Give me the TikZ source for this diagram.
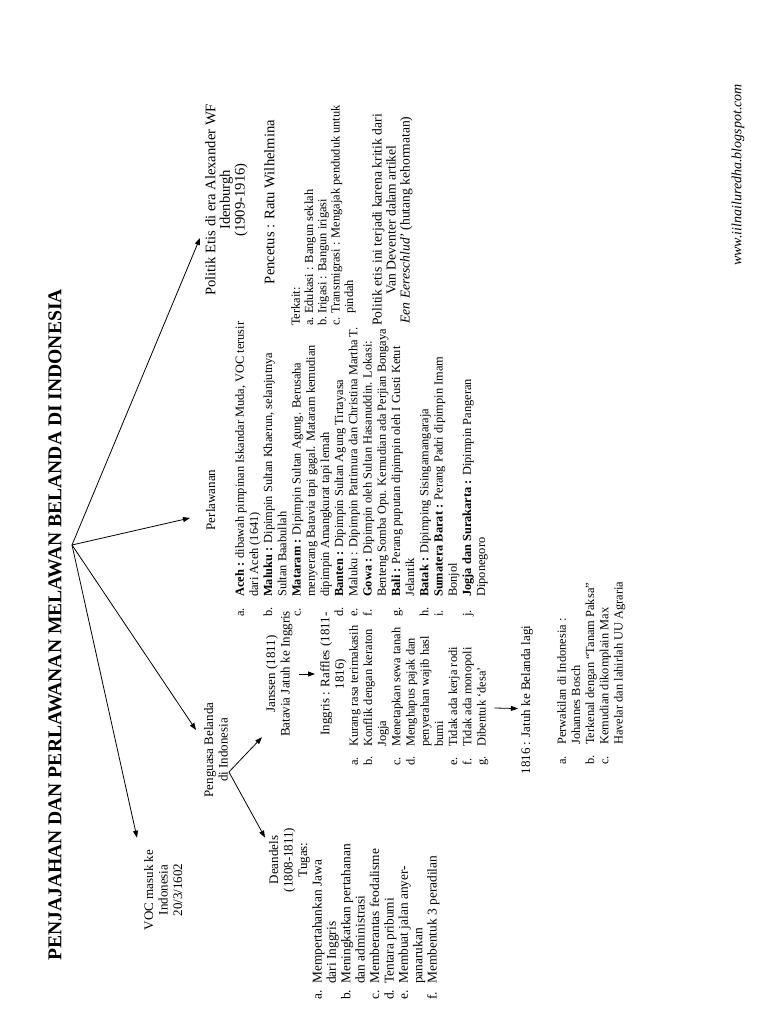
\documentclass[tikz,border=0pt]{standalone}
\usepackage{fontspec}
\setmainfont{Liberation Serif}
\usetikzlibrary{arrows.meta,calc}

\newcommand{\lbl}[2][20pt]{\makebox[#1][l]{#2}}
\newcommand{\cnt}[1][20pt]{\hspace*{#1}}

\begin{document}
\begin{tikzpicture}[
  x=1pt, y=1pt,
  every node/.style={inner sep=0pt, font=\fontsize{13}{14.4}\selectfont},
  headbox/.style={align=center, anchor=north},
  listbox/.style={align=left, anchor=north west},
  arr/.style={-{Triangle[length=7pt,width=5pt]}, line width=0.8pt}]
\useasboundingbox (0,0) rectangle (768,1024);
\begin{scope}[rotate=90, transform shape]
% title and root of the tree
\node[anchor=center, font=\fontsize{19.6}{22}\selectfont\bfseries] (title) at (399,-55)
  {PENJAJAHAN DAN PERLAWANAN MELAWAN BELANDA DI INDONESIA};
\coordinate (root) at (479,-72);

% first level
\node[headbox] (voc) at (134,-144) {VOC masuk ke\\Indonesia\\20/3/1602};
\node[headbox] (penguasa) at (274,-204) {Penguasa Belanda\\di Indonesia};
\node[headbox] (perlawanan) at (524,-206) {Perlawanan};
\node[headbox, font=\fontsize{14.6}{14.6}\selectfont] (politik) at (824,-205)
  {Politik Etis di era Alexander WF\\Idenburgh\\(1909-1916)};

% penguasa belanda
\node[headbox] (deandels) at (164,-269) {Deandels\\(1808-1811)\\Tugas:};
\node[listbox, font=\fontsize{13.4}{14.4}\selectfont] (tugas) at (24,-312) {%
  \lbl[16pt]{a.}Mempertahankan Jawa\\
  \cnt[16pt]dari Inggris\\
  \lbl[16pt]{b.}Meningkatkan pertahanan\\
  \cnt[16pt]dan administrasi\\
  \lbl[16pt]{c.}Memberantas feodalisme\\
  \lbl[16pt]{d.}Tentara pribumi\\
  \lbl[16pt]{e.}Membuat jalan anyer-\\
  \cnt[16pt]panarukan\\
  \lbl[16pt]{f.}Membentuk 3 peradilan};
\node[headbox] (janssen) at (350,-266) {Janssen (1811)\\Batavia Jatuh ke Inggris};
\node[headbox] (raffles) at (350,-320) {Inggris : Raffles (1811-\\1816)};
\node[listbox, font=\fontsize{12.4}{14.2}\selectfont] (rafflist) at (258,-349) {%
  \lbl[19pt]{a.}Kurang rasa terimakasih\\
  \lbl[19pt]{b.}Konflik dengan keraton\\
  \cnt[19pt]Jogja\\
  \lbl[19pt]{c.}Menetapkan sewa tanah\\
  \lbl[19pt]{d.}Menghapus pajak dan\\
  \cnt[19pt]penyerahan wajib hasl\\
  \cnt[19pt]bumi\\
  \lbl[19pt]{e.}Tidak ada kerja rodi\\
  \lbl[19pt]{f.}Tidak ada monopoli\\
  \lbl[19pt]{g.}Dibentuk `desa'};
\node[headbox] (jatuh) at (324,-521) {1816 : Jatuh ke Belanda lagi};
\node[listbox, font=\fontsize{12.4}{14.2}\selectfont] (bosch) at (259,-557) {%
  \lbl{a.}Perwakilan di Indonesia :\\
  \cnt Johannes Bosch\\
  \lbl{b.}Terkenal dengan ``Tanam Paksa''\\
  \lbl{c.}Kemudian dikomplain Max\\
  \cnt Havelar dan lahirlah UU Agraria};

% perlawanan
\node[listbox, font=\fontsize{12.4}{14.2}\selectfont] (perlist) at (407,-235) {%
  \lbl{a.}\textbf{Aceh :} dibawah pimpinan Iskandar Muda, VOC terusir\\
  \cnt dari Aceh (1641)\\
  \lbl{b.}\textbf{Maluku :} Dipimpin Sultan Khaerun, selanjutnya\\
  \cnt Sultan Baabullah\\
  \lbl{c.}\textbf{Mataram :} Dipimpin Sultan Agung. Berusaha\\
  \cnt menyerang Batavia tapi gagal. Mataram kemudian\\
  \cnt dipimpin Amangkurat tapi lemah\\
  \lbl{d.}\textbf{Banten :} Dipimpin Sultan Agung Tirtayasa\\
  \lbl{e.}Maluku : Dipimpin Pattimura dan Christina Martha T.\\
  \lbl{f.}\textbf{Gowa :} Dipimpin oleh Sultan Hasanuddin. Lokasi:\\
  \cnt Benteng Somba Opu. Kemudian ada Perjian Bongaya\\
  \lbl{g.}\textbf{Bali :} Perang puputan dipimpin oleh I Gusti Ketut\\
  \cnt Jelantik\\
  \lbl{h.}\textbf{Batak :} Dipimping Sisingamangaraja\\
  \lbl{i.}\textbf{Sumatera Barat :} Perang Padri dipimpin Imam\\
  \cnt Bonjol\\
  \lbl{j.}\textbf{Jogja dan Surakarta :} Dipimpin Pangeran\\
  \cnt Diponegoro};

% politik etis
\node[headbox, font=\fontsize{14.6}{14.6}\selectfont] (pencetus) at (822,-264) {Pencetus : Ratu Wilhelmina};
\node[listbox, font=\fontsize{12.4}{13.3}\selectfont] (terkait) at (698,-291) {%
  Terkait:\\
  \lbl[12pt]{a.}Edukasi : Bangun seklah\\
  \lbl[12pt]{b.}Irigasi : Bangun irigasi\\
  \lbl[12pt]{c.}Transmigrasi : Mengajak penduduk untuk\\
  \cnt[12pt]pindah};
\node[headbox, font=\fontsize{13.6}{14}\selectfont] (kritik) at (804,-372) {%
  Politik etis ini terjadi karena kritik dari\\
  Van Deventer dalam artikel\\
  \textit{Een Eereschlud'} (hutang kehormatan)};

\node[font=\fontsize{14}{16}\selectfont\itshape] (web) at (849,-738) {www.iilnailuredha.blogspot.com};

% connectors
\draw[arr] (root) -- ($(voc.north east)+(12,7)$);
\draw[arr] (root) -- ($(penguasa.north)+(20,8)$);
\draw[arr] (root) -- ($(perlawanan.north)+(-18,16)$);
\draw[arr] (root) -- ($(politik.north)+(-38,5)$);
\coordinate (pv) at ($(penguasa.south)+(-22,-1)$);
\draw[arr] (pv) -- ($(deandels.north east)+(-10,4)$);
\draw[arr] (pv) -- ($(janssen.north west)+(0,4)$);
\draw[arr, shorten <=6pt, shorten >=5pt] (janssen.south) -- (raffles.north);
\draw[arr] ($(rafflist.south west)+(58,-6)$) -- ($(jatuh.north west)+(66,3)$);
\end{scope}
\end{tikzpicture}
\end{document}
